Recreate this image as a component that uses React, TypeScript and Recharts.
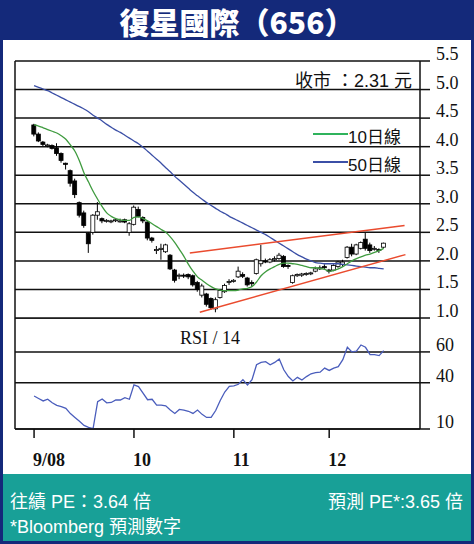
import React from 'react'
import { ComposedChart, Bar, Line, XAxis, YAxis, CartesianGrid, ReferenceLine } from 'recharts'

// daily candles, Sep–Dec 2008 (index = trading day)
const opens = [
  4.38, 4.22, 4.08, 4.02, 4.02, 3.98, 3.88, 3.71, 3.58, 3.40,
  3.02, 2.84, 2.48, 2.50, 2.80, 2.74, 2.70, 2.69, 2.71, 2.70,
  2.72, 2.50, 2.64, 2.90, 2.76, 2.68, 2.40, 2.18, 2.20, 2.16,
  2.10, 1.84, 1.74, 1.75, 1.76, 1.74, 1.62, 1.40, 1.42, 1.34,
  1.16, 1.36, 1.46, 1.62, 1.64, 1.72, 1.76, 1.70, 1.62, 1.78,
  1.95, 2.00, 1.98, 2.02, 2.04, 2.08, 1.92, 1.62, 1.74, 1.75,
  1.76, 1.78, 1.82, 1.86, 1.90, 1.84, 1.84, 1.90, 1.94, 2.06,
  2.24, 2.12, 2.22, 2.38, 2.28, 2.22, 2.20, 2.24,
]
const highs = [
  4.40, 4.25, 4.10, 4.05, 4.04, 4.06, 3.90, 3.72, 3.60, 3.44,
  3.04, 2.88, 2.50, 2.82, 3.03, 2.76, 2.73, 2.72, 2.74, 2.74,
  2.74, 2.68, 2.97, 2.95, 2.78, 2.70, 2.42, 2.26, 2.30, 2.30,
  2.12, 1.86, 1.78, 1.78, 1.78, 1.76, 1.65, 1.60, 1.44, 1.36,
  1.36, 1.50, 1.60, 1.68, 1.68, 1.90, 1.80, 1.72, 1.66, 2.04,
  2.28, 2.04, 2.05, 2.08, 2.14, 2.10, 1.94, 1.76, 1.78, 1.79,
  1.80, 1.81, 1.90, 1.92, 1.94, 1.86, 1.94, 2.00, 2.02, 2.26,
  2.30, 2.30, 2.34, 2.49, 2.32, 2.26, 2.22, 2.32,
]
const lows = [
  4.18, 4.08, 4.01, 3.99, 3.95, 3.84, 3.72, 3.60, 3.30, 3.10,
  2.76, 2.58, 2.14, 2.46, 2.72, 2.66, 2.67, 2.66, 2.68, 2.67,
  2.66, 2.44, 2.62, 2.76, 2.66, 2.36, 2.32, 2.12, 2.02, 2.14,
  1.84, 1.62, 1.68, 1.70, 1.68, 1.55, 1.46, 1.36, 1.20, 1.14,
  1.10, 1.34, 1.44, 1.58, 1.62, 1.70, 1.70, 1.55, 1.54, 1.76,
  1.90, 1.96, 1.96, 1.99, 2.02, 1.88, 1.86, 1.60, 1.72, 1.72,
  1.74, 1.75, 1.80, 1.84, 1.86, 1.78, 1.82, 1.88, 1.90, 2.04,
  2.08, 2.10, 2.20, 2.18, 2.14, 2.18, 2.14, 2.22,
]
const closes = [
  4.22, 4.10, 4.04, 4.03, 3.97, 3.88, 3.76, 3.69, 3.36, 3.16,
  2.80, 2.62, 2.30, 2.80, 2.86, 2.70, 2.71, 2.70, 2.72, 2.70,
  2.68, 2.65, 2.94, 2.78, 2.70, 2.40, 2.36, 2.20, 2.22, 2.28,
  1.86, 1.66, 1.75, 1.74, 1.72, 1.58, 1.50, 1.56, 1.24, 1.18,
  1.32, 1.48, 1.57, 1.64, 1.66, 1.82, 1.73, 1.58, 1.60, 2.02,
  2.00, 1.98, 2.02, 2.04, 2.10, 1.90, 1.90, 1.74, 1.76, 1.77,
  1.78, 1.79, 1.86, 1.88, 1.88, 1.82, 1.92, 1.98, 1.98, 2.24,
  2.12, 2.28, 2.32, 2.22, 2.18, 2.22, 2.18, 2.31,
]
const ma10 = [
  4.38, 4.36, 4.33, 4.30, 4.27, 4.24, 4.19, 4.13, 4.03, 3.92,
  3.75, 3.54, 3.38, 3.22, 3.08, 2.95, 2.84, 2.78, 2.74, 2.72,
  2.71, 2.71, 2.76, 2.77, 2.74, 2.70, 2.65, 2.60, 2.55, 2.50,
  2.42, 2.32, 2.20, 2.08, 1.94, 1.82, 1.72, 1.66, 1.60, 1.55,
  1.51, 1.49, 1.48, 1.48, 1.48, 1.49, 1.51, 1.52, 1.55, 1.63,
  1.74, 1.81, 1.86, 1.90, 1.94, 1.96, 1.96, 1.95, 1.94, 1.92,
  1.90, 1.88, 1.88, 1.87, 1.85, 1.82, 1.83, 1.86, 1.90, 1.95,
  2.00, 2.04, 2.07, 2.10, 2.12, 2.15, 2.18, 2.22,
]
const ma50 = [
  5.07, 5.04, 5.01, 4.98, 4.94, 4.90, 4.86, 4.82, 4.78, 4.74,
  4.70, 4.66, 4.61, 4.55, 4.50, 4.45, 4.39, 4.34, 4.29, 4.25,
  4.20, 4.15, 4.10, 4.05, 3.99, 3.92, 3.85, 3.78, 3.71, 3.63,
  3.56, 3.48, 3.41, 3.34, 3.27, 3.20, 3.14, 3.08, 3.02, 2.97,
  2.92, 2.87, 2.83, 2.78, 2.74, 2.70, 2.66, 2.62, 2.58, 2.54,
  2.50, 2.46, 2.41, 2.36, 2.31, 2.26, 2.21, 2.16, 2.11, 2.07,
  2.03, 2.00, 1.97, 1.96, 1.95, 1.95, 1.95, 1.95, 1.94, 1.93,
  1.92, 1.91, 1.90, 1.89, 1.88, 1.88, 1.87, 1.86,
]
const rsi14 = [
  31.4, 29.8, 28.2, 29.3, 27.0, 25.3, 24.5, 23.4, 20.0, 17.5,
  15.0, 12.3, 11.0, 10.3, 27.7, 29.5, 27.0, 27.2, 28.8, 28.8,
  30.3, 29.3, 38.6, 37.5, 33.2, 29.0, 29.3, 25.5, 25.5, 25.0,
  22.3, 20.1, 22.7, 22.3, 21.5, 20.1, 22.3, 19.5, 17.5, 17.5,
  22.0, 28.5, 34.0, 37.6, 38.0, 39.0, 42.0, 38.6, 42.0, 51.7,
  53.2, 53.7, 51.7, 53.2, 55.4, 48.4, 44.0, 41.2, 43.5, 41.8,
  44.0, 45.8, 46.5, 46.9, 49.5, 48.0, 49.5, 50.4, 55.0, 63.0,
  60.0, 60.5, 64.5, 63.0, 58.2, 58.2, 57.6, 60.8,
]

const monthTicks = [0, 22, 44, 65]
const monthLabels = ['9/08', '10', '11', '12']
const priceTicks = [1, 1.5, 2, 2.5, 3, 3.5, 4, 4.5, 5, 5.5]
const rsiTicks = [10, 40, 60]
const upperTrend = [{ x: 34.3, y: 2.14 }, { x: 81.6, y: 2.62 }]
const lowerTrend = [{ x: 36.5, y: 1.1 }, { x: 81.8, y: 2.11 }]

const days = closes.map((c, i) => ({
  i,
  open: opens[i],
  high: highs[i],
  low: lows[i],
  close: c,
  range: [lows[i], highs[i]],
  ma10: ma10[i],
  ma50: ma50[i],
  rsi: rsi14[i],
}))

const X_DOMAIN: [number, number] = [-4.2, 85]
const NAVY = '#14297a'
const TEAL = '#18a097'
const SERIF = '"Liberation Serif", "Times New Roman", serif'
const SANS = '"Liberation Sans", Arial, "Noto Sans CJK TC", sans-serif'

function Candle(props: any) {
  const { x, y, width, height, payload } = props
  if (x == null || !payload) return null
  const { open, close, high, low } = payload
  const top = Math.min(y, y + height)
  const h = Math.abs(height)
  const py = (v: number) => top + ((high - v) / (high - low)) * h
  const cx = x + width / 2
  const bTop = py(Math.max(open, close))
  const bBot = py(Math.min(open, close))
  const up = close >= open
  return (
    <g>
      <line x1={cx} x2={cx} y1={top} y2={top + h} stroke="#000" strokeWidth={1} />
      <rect
        x={x}
        y={bTop}
        width={width}
        height={Math.max(bBot - bTop, 1)}
        fill={up ? '#fff' : '#000'}
        stroke="#000"
        strokeWidth={0.8}
      />
    </g>
  )
}

function RightTick(props: any) {
  const { x, y, payload, digits } = props
  const v = digits ? Number(payload.value).toFixed(digits) : String(payload.value)
  return (
    <text
      x={x}
      y={y - 7}
      dominantBaseline="central"
      textAnchor="start"
      fontFamily={SERIF}
      fontSize={18}
      fill="#111"
    >
      {v}
    </text>
  )
}

function MonthTick(props: any) {
  const { x, y, payload } = props
  const idx = monthTicks.indexOf(payload.value)
  return (
    <text
      x={x - 1}
      y={y + 22}
      dominantBaseline="central"
      textAnchor="start"
      fontFamily={SERIF}
      fontWeight="bold"
      fontSize={18}
      fill="#111"
    >
      {monthLabels[idx]}
    </text>
  )
}

export default function App() {
  return (
    <div style={{ position: 'absolute', left: 0, top: 0, width: 474, height: 544, background: NAVY, overflow: 'hidden' }}>
      <div
        style={{
          position: 'absolute', left: 0, top: 2, width: 474, height: 38, textAlign: 'center',
          color: '#fff', fontFamily: '"Noto Sans CJK TC", sans-serif', fontWeight: 900, fontSize: 30, lineHeight: '38px',
        }}
      >
        復星國際（656）
      </div>
      <div style={{ position: 'absolute', left: 3, top: 40, width: 468, height: 434, background: '#fff' }} />
      <div style={{ position: 'absolute', left: 3, top: 474, width: 468, height: 67, background: TEAL }} />

      <div style={{ position: 'absolute', left: 0, top: 0 }}>
        <ComposedChart width={474} height={330} data={days} margin={{ top: 61, right: 10, bottom: 12, left: 15 }}>
          <CartesianGrid horizontal vertical={false} stroke="#111" strokeWidth={1.5} />
          <XAxis dataKey="i" type="number" domain={X_DOMAIN} hide allowDataOverflow />
          <YAxis
            orientation="right"
            type="number"
            domain={[1, 5.5]}
            ticks={priceTicks}
            width={44}
            tickSize={10}
            tickMargin={6}
            axisLine={{ stroke: '#111', strokeWidth: 1.5 }}
            tickLine={{ stroke: '#111', strokeWidth: 1.5 }}
            tick={<RightTick digits={1} />}
            allowDataOverflow
          />
          <ReferenceLine x={X_DOMAIN[0]} stroke="#111" strokeWidth={1.5} />
          <Line dataKey="ma50" type="monotone" stroke="#3b4fa6" strokeWidth={1.3} dot={false} isAnimationActive={false} />
          <Line dataKey="ma10" type="monotone" stroke="#3f9b3f" strokeWidth={1.3} dot={false} isAnimationActive={false} />
          <Bar dataKey="range" barSize={4} shape={(p: any) => <Candle {...p} />} isAnimationActive={false} />
          <ReferenceLine segment={upperTrend} stroke="#ea4b2e" strokeWidth={1.5} ifOverflow="visible" />
          <ReferenceLine segment={lowerTrend} stroke="#ea4b2e" strokeWidth={1.5} ifOverflow="visible" />
        </ComposedChart>
      </div>

      <div style={{ position: 'absolute', left: 0, top: 318 }}>
        <ComposedChart width={474} height={160} data={days} margin={{ top: 0, right: 10, bottom: 9, left: 15 }}>
          <CartesianGrid horizontal vertical={false} stroke="#111" strokeWidth={1.5} />
          <XAxis
            dataKey="i"
            type="number"
            domain={X_DOMAIN}
            ticks={monthTicks}
            height={40}
            tickSize={9}
            tickMargin={0}
            axisLine={{ stroke: '#111', strokeWidth: 1.5 }}
            tickLine={{ stroke: '#111', strokeWidth: 1.5 }}
            tick={<MonthTick />}
            allowDataOverflow
          />
          <YAxis
            orientation="right"
            type="number"
            domain={[10, 82]}
            ticks={rsiTicks}
            width={44}
            tickSize={10}
            tickMargin={6}
            axisLine={{ stroke: '#111', strokeWidth: 1.5 }}
            tickLine={{ stroke: '#111', strokeWidth: 1.5 }}
            tick={<RightTick />}
            allowDataOverflow
          />
          <ReferenceLine x={X_DOMAIN[0]} stroke="#111" strokeWidth={1.5} />
          <Line dataKey="rsi" type="linear" stroke="#4a5dbc" strokeWidth={1.3} dot={false} isAnimationActive={false} />
        </ComposedChart>
      </div>

      <div style={{ position: 'absolute', left: 180, top: 328, fontFamily: SERIF, fontSize: 18, color: '#111' }}>RSI / 14</div>

      <div style={{ position: 'absolute', right: 62, top: 66, fontFamily: SANS, fontSize: 18, color: '#111', whiteSpace: 'nowrap' }}>
        收市 ：2.31 元
      </div>

      <div style={{ position: 'absolute', left: 313, top: 133, width: 35, height: 2, background: '#2fb35c' }} />
      <div style={{ position: 'absolute', left: 348, top: 123, fontFamily: SANS, fontSize: 17, color: '#111' }}>10日線</div>
      <div style={{ position: 'absolute', left: 313, top: 161, width: 35, height: 2, background: '#3b4fa6' }} />
      <div style={{ position: 'absolute', left: 348, top: 151, fontFamily: SANS, fontSize: 17, color: '#111' }}>50日線</div>

      <div style={{ position: 'absolute', left: 10, top: 487, fontFamily: SANS, fontSize: 18, color: '#fff', whiteSpace: 'nowrap' }}>
        往績 PE：3.64 倍
      </div>
      <div style={{ position: 'absolute', right: 11, top: 487, fontFamily: SANS, fontSize: 18, color: '#fff', whiteSpace: 'nowrap' }}>
        預測 PE*:3.65 倍
      </div>
      <div style={{ position: 'absolute', left: 10, top: 512, fontFamily: SANS, fontSize: 18, color: '#fff', whiteSpace: 'nowrap' }}>
        *Bloomberg 預測數字
      </div>
    </div>
  )
}
